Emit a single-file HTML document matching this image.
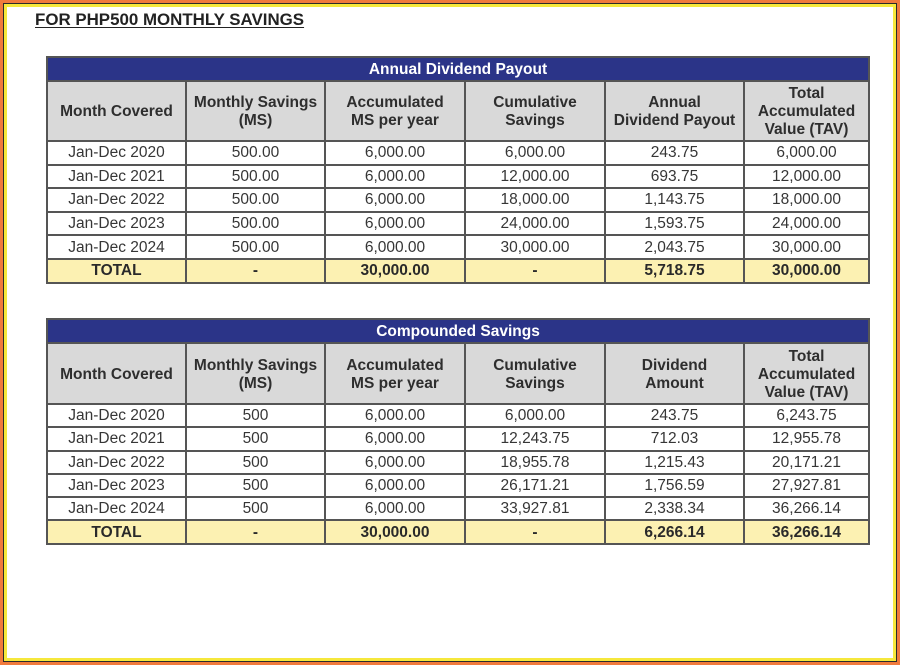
<!DOCTYPE html>
<html>
<head>
<meta charset="utf-8">
<style>
  html, body { margin:0; padding:0; }
  body { width:900px; height:665px; position:relative; overflow:hidden; background:#fff;
         font-family:"Liberation Sans", Arial, sans-serif; }
  .frame1 { position:absolute; left:0; top:0; width:900px; height:665px; box-sizing:border-box;
            border:3px solid #f07a3c; }
  .frame2 { position:absolute; left:3px; top:3px; right:3px; bottom:3px; box-sizing:border-box;
            border:1px solid #2a2a2a; }
  .frame3 { position:absolute; left:4px; top:4px; right:4px; bottom:4px; box-sizing:border-box;
            border:3px solid #f6e83c; }
  .title { position:absolute; left:35px; top:10px; font-size:16.9px; font-weight:bold; color:#222;
           text-decoration:underline; text-underline-offset:2px; white-space:nowrap; letter-spacing:0; }
  .tbl { position:absolute; left:46px; width:824px; box-sizing:border-box; background:#555;
         padding:2px; display:grid; gap:2px;
         grid-template-columns:137px 137px 138px 138px 137px 123px; }
  .tbl div { display:flex; align-items:center; justify-content:center; text-align:center;
             color:#363636; font-size:15.5px; white-space:nowrap; }
  .tbl .cap { grid-column:1 / 7; background:#2b3488; color:#fff; font-weight:bold; padding-top:1px; }
  .tbl .h { background:#d9d9d9; font-weight:bold; line-height:18px; white-space:normal; color:#2e2e2e; padding-top:2px; }
  .tbl .d { background:#fff; padding-top:1px; }
  .tbl .t { background:#fcf1b2; font-weight:bold; color:#2a2a2a; padding-top:1px; }
  #t1 { top:56px; grid-template-rows:22px 58px repeat(6, 21.6px); }
  #t2 { top:318px; grid-template-rows:22px 59px repeat(6, 21.3px); }
</style>
</head>
<body>
<div class="frame1"></div>
<div class="frame2"></div>
<div class="frame3"></div>

<div class="title">FOR PHP500 MONTHLY SAVINGS</div>

<div class="tbl" id="t1">
  <div class="cap">Annual Dividend Payout</div>
  <div class="h">Month Covered</div>
  <div class="h">Monthly Savings<br>(MS)</div>
  <div class="h">Accumulated<br>MS per year</div>
  <div class="h">Cumulative<br>Savings</div>
  <div class="h">Annual<br>Dividend Payout</div>
  <div class="h">Total<br>Accumulated<br>Value (TAV)</div>

  <div class="d">Jan-Dec 2020</div><div class="d">500.00</div><div class="d">6,000.00</div><div class="d">6,000.00</div><div class="d">243.75</div><div class="d">6,000.00</div>
  <div class="d">Jan-Dec 2021</div><div class="d">500.00</div><div class="d">6,000.00</div><div class="d">12,000.00</div><div class="d">693.75</div><div class="d">12,000.00</div>
  <div class="d">Jan-Dec 2022</div><div class="d">500.00</div><div class="d">6,000.00</div><div class="d">18,000.00</div><div class="d">1,143.75</div><div class="d">18,000.00</div>
  <div class="d">Jan-Dec 2023</div><div class="d">500.00</div><div class="d">6,000.00</div><div class="d">24,000.00</div><div class="d">1,593.75</div><div class="d">24,000.00</div>
  <div class="d">Jan-Dec 2024</div><div class="d">500.00</div><div class="d">6,000.00</div><div class="d">30,000.00</div><div class="d">2,043.75</div><div class="d">30,000.00</div>
  <div class="t">TOTAL</div><div class="t">-</div><div class="t">30,000.00</div><div class="t">-</div><div class="t">5,718.75</div><div class="t">30,000.00</div>
</div>

<div class="tbl" id="t2">
  <div class="cap">Compounded Savings</div>
  <div class="h">Month Covered</div>
  <div class="h">Monthly Savings<br>(MS)</div>
  <div class="h">Accumulated<br>MS per year</div>
  <div class="h">Cumulative<br>Savings</div>
  <div class="h">Dividend<br>Amount</div>
  <div class="h">Total<br>Accumulated<br>Value (TAV)</div>

  <div class="d">Jan-Dec 2020</div><div class="d">500</div><div class="d">6,000.00</div><div class="d">6,000.00</div><div class="d">243.75</div><div class="d">6,243.75</div>
  <div class="d">Jan-Dec 2021</div><div class="d">500</div><div class="d">6,000.00</div><div class="d">12,243.75</div><div class="d">712.03</div><div class="d">12,955.78</div>
  <div class="d">Jan-Dec 2022</div><div class="d">500</div><div class="d">6,000.00</div><div class="d">18,955.78</div><div class="d">1,215.43</div><div class="d">20,171.21</div>
  <div class="d">Jan-Dec 2023</div><div class="d">500</div><div class="d">6,000.00</div><div class="d">26,171.21</div><div class="d">1,756.59</div><div class="d">27,927.81</div>
  <div class="d">Jan-Dec 2024</div><div class="d">500</div><div class="d">6,000.00</div><div class="d">33,927.81</div><div class="d">2,338.34</div><div class="d">36,266.14</div>
  <div class="t">TOTAL</div><div class="t">-</div><div class="t">30,000.00</div><div class="t">-</div><div class="t">6,266.14</div><div class="t">36,266.14</div>
</div>
</body>
</html>
